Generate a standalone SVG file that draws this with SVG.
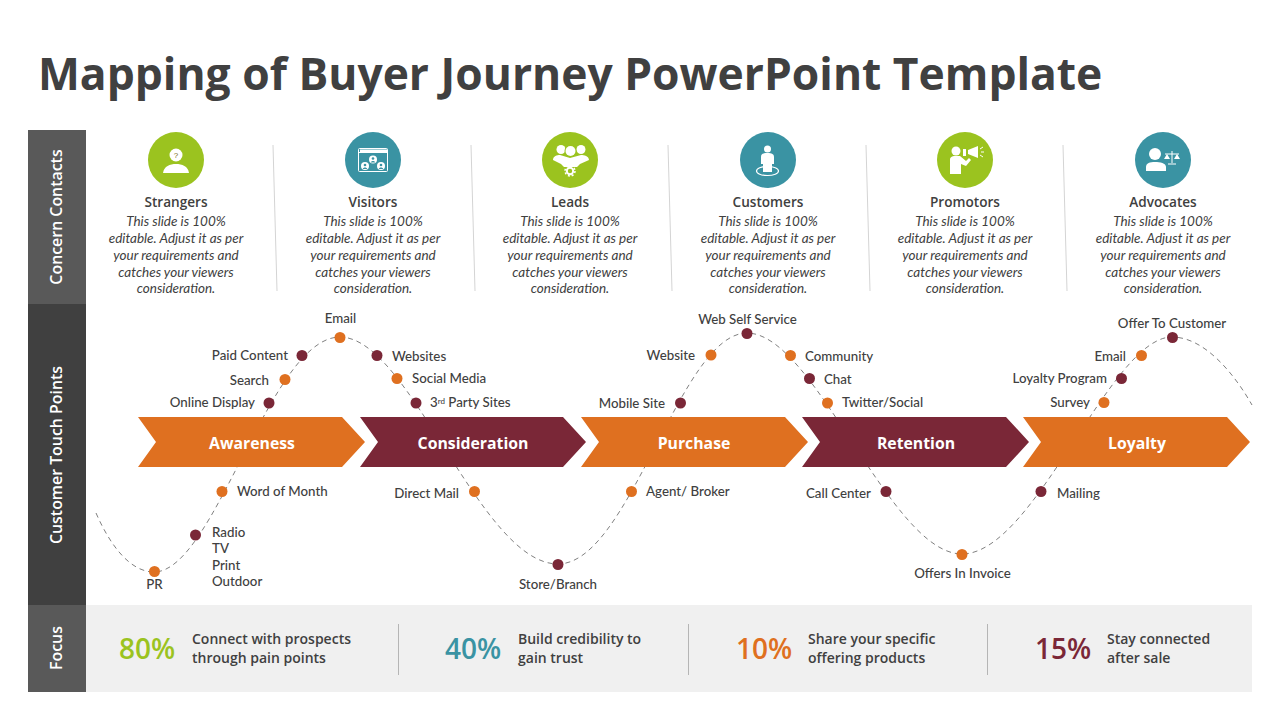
<svg xmlns="http://www.w3.org/2000/svg" width="1280" height="720" viewBox="0 0 1280 720">
<style>
text{font-family:"Lato","Open Sans","Liberation Sans",sans-serif;fill:#404040}
.title{font-family:"Open Sans","Liberation Sans",sans-serif;font-weight:700;font-size:44.4px}
.side{font-family:"Open Sans","Liberation Sans",sans-serif;font-weight:600;font-size:15.9px;fill:#fff;text-anchor:middle}
.h{font-family:"Open Sans","Liberation Sans",sans-serif;font-weight:600;font-size:13.6px;text-anchor:middle}
.d{font-style:italic;font-size:13.5px;text-anchor:middle}
.l{font-size:13.3px;font-weight:500}
.m{text-anchor:middle}.e{text-anchor:end}
.ar{font-family:"Open Sans","Liberation Sans",sans-serif;font-weight:700;font-size:15.8px;fill:#fff;text-anchor:middle}
.pc{font-family:"Open Sans","Liberation Sans",sans-serif;font-weight:600;font-size:28px}
.f{font-family:"Open Sans","Liberation Sans",sans-serif;font-weight:600;font-size:14px}
.o{fill:#DF7020}.r{fill:#7A2737}.g{fill:#9BC31F}.t{fill:#3A93A3}
.sep{stroke:#D4D4D4;stroke-width:1;fill:none}
.fsep{stroke:#B5B5B5;stroke-width:1}
.w{fill:#fff}.ws{stroke:#fff;fill:none}
</style>
<text class="title" x="38" y="90">Mapping of Buyer Journey PowerPoint Template</text>
<g id="bars">
<rect x="28" y="130" width="58" height="174" fill="#595959"/>
<rect x="28" y="304" width="58" height="301" fill="#404040"/>
<rect x="28" y="605" width="58" height="87" fill="#595959"/>
<rect x="86" y="605" width="1166" height="87" fill="#F0F0F0"/>
<text class="side" transform="translate(62 217) rotate(-90)">Concern Contacts</text>
<text class="side" transform="translate(62 455) rotate(-90)">Customer Touch Points</text>
<text class="side" transform="translate(62 648) rotate(-90)">Focus</text>
</g>
<g id="separators">
<path class="sep" d="M273 145L277 291M471 145L475 291M668 145L672 291M866 145L870 291M1063 145L1067 291"/>
</g>
<g id="connectors">
<path d="M96,513C110,545 130,572 154,572C215,572 270,337 340,337C410,337 480,564 558,564C630,564 680,333 747,333C815,333 890,554 962,554C1035,554 1110,337 1172,337C1205,337 1235,375 1252,405" fill="none" stroke="#808080" stroke-width="1" stroke-dasharray="5 4"/>
</g>
<g id="stage-awareness"><path class="o" d="M138,417H342L365,442L342,467H138L156,442Z"/><text class="ar" x="252" y="449">Awareness</text></g>
<g id="stage-consideration"><path class="r" d="M360,417H563L586,442L563,467H360L378,442Z"/><text class="ar" x="473" y="449">Consideration</text></g>
<g id="stage-purchase"><path class="o" d="M581,417H785L808,442L785,467H581L599,442Z"/><text class="ar" x="694" y="449">Purchase</text></g>
<g id="stage-retention"><path class="r" d="M802,417H1006L1029,442L1006,467H802L820,442Z"/><text class="ar" x="916" y="449">Retention</text></g>
<g id="stage-loyalty"><path class="o" d="M1023,417H1227L1250,442L1227,467H1023L1041,442Z"/><text class="ar" x="1137" y="449">Loyalty</text></g>

<g id="contact-strangers">
<circle class="g" cx="176" cy="160" r="28"/>
<circle class="w" cx="176" cy="155" r="6.500"/><path class="w" d="M163,173C164,166 170,164 176,164C182,164 188,166 189,173Z"/>
<text x="176" y="158" font-size="8" text-anchor="middle" style="fill:#7A6A20;font-family:'Liberation Sans',sans-serif">?</text>
<text class="h" x="176" y="207">Strangers</text>
<text class="d"><tspan x="176" y="226">This slide is 100%</tspan><tspan x="176" y="243">editable. Adjust  it as per</tspan><tspan x="176" y="260">your requirements and</tspan><tspan x="176" y="277">catches your viewers</tspan><tspan x="176" y="293">consideration.</tspan></text>
</g>
<g id="contact-visitors">
<circle class="t" cx="373" cy="160" r="28"/>
<rect x="358.500" y="148.500" width="29" height="23" rx="1" class="ws"/><path class="ws" d="M359,152.500H387"/>
<path class="w" d="M360,149.500H387V152H360Z"/>
<circle class="w" cx="373" cy="159.500" r="4"/><circle class="w" cx="365" cy="166" r="4"/><circle class="w" cx="381" cy="166" r="4"/>
<circle class="t" cx="373" cy="158.500" r="1.300"/><circle class="t" cx="365" cy="165" r="1.300"/><circle class="t" cx="381" cy="165" r="1.300"/>
<path class="t" d="M370.800,162.500C371,160.500 375,160.500 375.200,162.500ZM362.800,169C363,167 367,167 367.200,169ZM378.800,169C379,167 383,167 383.200,169Z"/>
<text class="h" x="373" y="207">Visitors</text>
<text class="d"><tspan x="373" y="226">This slide is 100%</tspan><tspan x="373" y="243">editable. Adjust  it as per</tspan><tspan x="373" y="260">your requirements and</tspan><tspan x="373" y="277">catches your viewers</tspan><tspan x="373" y="293">consideration.</tspan></text>
</g>
<g id="contact-leads">
<circle class="g" cx="570" cy="160" r="28"/>
<circle class="w" cx="561" cy="149.500" r="4.500"/><circle class="w" cx="581" cy="149.500" r="4.500"/><circle class="g" cx="570.500" cy="151" r="6"/><circle class="w" cx="570.500" cy="151" r="5"/>
<path class="w" d="M553,160C553,156 557,155 560,155L570,158L581,155C584,155 589,156 589,160L580,164L577,167H564L561,164Z"/>
<circle cx="570" cy="171" r="3.200" fill="none" stroke="#fff" stroke-width="2"/>
<circle cx="570" cy="171" r="5" fill="none" stroke="#fff" stroke-width="1.500" stroke-dasharray="2 1.900"/>
<text class="h" x="570" y="207">Leads</text>
<text class="d"><tspan x="570" y="226">This slide is 100%</tspan><tspan x="570" y="243">editable. Adjust  it as per</tspan><tspan x="570" y="260">your requirements and</tspan><tspan x="570" y="277">catches your viewers</tspan><tspan x="570" y="293">consideration.</tspan></text>
</g>
<g id="contact-customers">
<circle class="t" cx="768" cy="160" r="28"/>
<circle class="w" cx="767.500" cy="149" r="3.500"/><path class="w" d="M761,157C761,154 763,153 767.500,153C772,153 774,154 774,157V164H772V172H763V164H761Z"/>
<ellipse cx="767.500" cy="171" rx="11" ry="4.500" class="ws" stroke-width="1.200"/>
<text class="h" x="768" y="207">Customers</text>
<text class="d"><tspan x="768" y="226">This slide is 100%</tspan><tspan x="768" y="243">editable. Adjust  it as per</tspan><tspan x="768" y="260">your requirements and</tspan><tspan x="768" y="277">catches your viewers</tspan><tspan x="768" y="293">consideration.</tspan></text>
</g>
<g id="contact-promotors">
<circle class="g" cx="965" cy="160" r="28"/>
<circle class="w" cx="956" cy="151" r="4.500"/><path class="w" d="M950,174V160C950,157 952,156 955,156H960L966,161L969,158L971,160L966,166L961,164V174Z"/>
<path class="w" d="M963,149H966V156H963ZM968,150L978,146V158L968,154Z"/>
<path class="ws" d="M980,149L983,147M981,152H984M980,155L983,157"/>
<text class="h" x="965" y="207">Promotors</text>
<text class="d"><tspan x="965" y="226">This slide is 100%</tspan><tspan x="965" y="243">editable. Adjust  it as per</tspan><tspan x="965" y="260">your requirements and</tspan><tspan x="965" y="277">catches your viewers</tspan><tspan x="965" y="293">consideration.</tspan></text>
</g>
<g id="contact-advocates">
<circle class="t" cx="1163" cy="160" r="28"/>
<circle class="w" cx="1155" cy="154" r="6"/><path class="w" d="M1146,171V167C1146,163 1150,162 1155,162C1160,162 1166,163 1166,167V171Z"/>
<path class="ws" d="M1172,151V163M1168,164H1176M1165,154H1179"/>
<path class="w" d="M1164,159H1170L1167,154ZM1174,159H1180L1177,154Z"/>
<text class="h" x="1163" y="207">Advocates</text>
<text class="d"><tspan x="1163" y="226">This slide is 100%</tspan><tspan x="1163" y="243">editable. Adjust  it as per</tspan><tspan x="1163" y="260">your requirements and</tspan><tspan x="1163" y="277">catches your viewers</tspan><tspan x="1163" y="293">consideration.</tspan></text>
</g>

<g id="touch-points">
<circle class="r" cx="269" cy="403" r="5.500"/><circle class="o" cx="285" cy="379.500" r="5.500"/><circle class="r" cx="302" cy="355.500" r="5.500"/><circle class="o" cx="340" cy="337.500" r="5.500"/><circle class="r" cx="377" cy="355.500" r="5.500"/><circle class="o" cx="397" cy="378.500" r="5.500"/><circle class="r" cx="416" cy="403" r="5.500"/>
<circle class="o" cx="222" cy="491.500" r="5.500"/><circle class="r" cx="195.500" cy="535" r="5.500"/><circle class="o" cx="154.500" cy="571.500" r="5.500"/>
<circle class="o" cx="474.500" cy="491.500" r="5.500"/><circle class="r" cx="558" cy="564.500" r="5.500"/><circle class="o" cx="631.500" cy="491.500" r="5.500"/>
<circle class="r" cx="680.500" cy="403" r="5.500"/><circle class="o" cx="711" cy="355" r="5.500"/><circle class="r" cx="747" cy="333.500" r="5.500"/><circle class="o" cx="790.500" cy="355.500" r="5.500"/><circle class="r" cx="809.500" cy="378.500" r="5.500"/><circle class="o" cx="827.500" cy="403" r="5.500"/>
<circle class="r" cx="886" cy="491.500" r="5.500"/><circle class="o" cx="962" cy="554.500" r="5.500"/><circle class="r" cx="1041" cy="491.500" r="5.500"/>
<circle class="o" cx="1104" cy="402.500" r="5.500"/><circle class="r" cx="1121.500" cy="378.500" r="5.500"/><circle class="o" cx="1141.500" cy="355.500" r="5.500"/><circle class="r" cx="1172.500" cy="337.500" r="5.500"/>
<text class="l m" x="340.500" y="323">Email</text>
<text class="l e" x="288" y="360">Paid Content</text>
<text class="l e" x="269" y="385">Search</text>
<text class="l e" x="255" y="407">Online Display</text>
<text class="l" x="392" y="361">Websites</text>
<text class="l" x="412" y="383">Social Media</text>
<text class="l" x="430" y="407">3<tspan dy="-3" font-size="8">rd</tspan><tspan dy="3"> Party Sites</tspan></text>
<text class="l" x="237" y="496">Word of Month</text>
<text class="l"><tspan x="212" y="537">Radio</tspan><tspan x="212" y="553">TV</tspan><tspan x="212" y="570">Print</tspan><tspan x="212" y="586">Outdoor</tspan></text>
<text class="l m" x="154.500" y="589">PR</text>
<text class="l e" x="459" y="498">Direct Mail</text>
<text class="l m" x="558" y="589">Store/Branch</text>
<text class="l" x="646" y="496">Agent/ Broker</text>
<text class="l e" x="665" y="408">Mobile Site</text>
<text class="l e" x="695" y="360">Website</text>
<text class="l m" x="747.500" y="324">Web Self Service</text>
<text class="l" x="805" y="361">Community</text>
<text class="l" x="824" y="384">Chat</text>
<text class="l" x="842" y="407">Twitter/Social</text>
<text class="l e" x="871" y="498">Call Center</text>
<text class="l m" x="962.500" y="578">Offers In Invoice</text>
<text class="l" x="1057" y="498">Mailing</text>
<text class="l e" x="1090" y="407">Survey</text>
<text class="l e" x="1107" y="383">Loyalty Program</text>
<text class="l e" x="1126" y="361">Email</text>
<text class="l m" x="1172" y="328">Offer To Customer</text>
</g>
<g id="focus">
<text class="pc" x="119" y="659" style="fill:#9BC31F">80%</text>
<text class="f"><tspan x="192" y="644">Connect with prospects</tspan><tspan x="192" y="663">through pain points</tspan></text>
<path class="fsep" d="M398.500,624V675M688.500,624V675M987.500,624V675"/>
<text class="pc" x="445" y="659" style="fill:#3A93A3">40%</text>
<text class="f"><tspan x="518" y="644">Build credibility to</tspan><tspan x="518" y="663">gain trust</tspan></text>
<text class="pc" x="736" y="659" style="fill:#DF7020">10%</text>
<text class="f"><tspan x="808" y="644">Share your specific</tspan><tspan x="808" y="663">offering products</tspan></text>
<text class="pc" x="1035" y="659" style="fill:#7A2737">15%</text>
<text class="f"><tspan x="1107" y="644">Stay connected</tspan><tspan x="1107" y="663">after sale</tspan></text>
</g>
</svg>
